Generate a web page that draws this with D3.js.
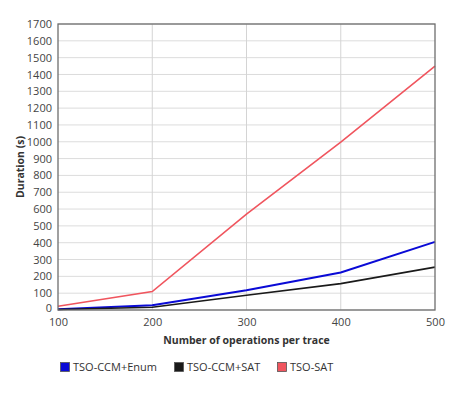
<!DOCTYPE html>
<html>
<head>
<meta charset="utf-8">
<script src="https://cdn.jsdelivr.net/npm/d3@7"></script>
<style>
  body { margin: 0; background: #fff; }
  text { font-family: "Open Sans", sans-serif; }
</style>
</head>
<body>
<div id="chart"></div>
<script>
// data
const opsPerTrace = [100, 200, 300, 400, 500];
const enumDur = [5, 28, 118, 223, 405];
const ccmSatDur = [3, 16, 88, 157, 255];
const satDur = [22, 110, 570, 998, 1450];
const yTicks = d3.range(0, 1701, 100);

const seriesNames = ["TSO-CCM+Enum", "TSO-CCM+SAT", "TSO-SAT"];
const seriesColors = ["#0a0ad6", "#1a1a1a", "#f0555e"];
const seriesWidths = [2, 1.6, 1.6];
const seriesData = [enumDur, ccmSatDur, satDur];

const width = 474, height = 395;
const margin = { top: 24, right: 39, bottom: 85, left: 58 };

const svg = d3.select("#chart")
    .append("svg")
    .attr("width", width)
    .attr("height", height);

const x = d3.scaleLinear()
    .domain([100, 500])
    .range([margin.left, width - margin.right]);

const y = d3.scaleLinear()
    .domain([0, 1700])
    .range([height - margin.bottom, margin.top]);

// grid
svg.append("g")
    .selectAll("line")
    .data(yTicks)
    .join("line")
    .attr("x1", margin.left)
    .attr("x2", width - margin.right)
    .attr("y1", d => y(d))
    .attr("y2", d => y(d))
    .attr("stroke", "#dcdcdc")
    .attr("stroke-width", 1);

svg.append("g")
    .selectAll("line")
    .data(opsPerTrace.slice(1, -1))
    .join("line")
    .attr("x1", d => x(d))
    .attr("x2", d => x(d))
    .attr("y1", margin.top)
    .attr("y2", height - margin.bottom)
    .attr("stroke", "#d4d4d4")
    .attr("stroke-width", 1);

// lines
const line = d3.line()
    .x((d, i) => x(opsPerTrace[i]))
    .y(d => y(d));

svg.append("g")
    .selectAll("path")
    .data(seriesData)
    .join("path")
    .attr("d", d => line(d))
    .attr("fill", "none")
    .attr("stroke", (d, i) => seriesColors[i])
    .attr("stroke-width", (d, i) => seriesWidths[i]);

// frame
svg.append("rect")
    .attr("x", margin.left)
    .attr("y", margin.top)
    .attr("width", width - margin.right - margin.left)
    .attr("height", height - margin.bottom - margin.top)
    .attr("fill", "none")
    .attr("stroke", "#6e6e6e")
    .attr("stroke-width", 1.3);

// axes
const xAxis = svg.append("g")
    .attr("transform", `translate(0,${height - margin.bottom})`)
    .call(d3.axisBottom(x).tickValues(opsPerTrace).tickFormat(d3.format("d")).tickSize(0).tickPadding(8));
xAxis.select(".domain").remove();
xAxis.selectAll("text").attr("font-size", 11).attr("fill", "#444").attr("font-family", "Open Sans, sans-serif");

const yAxis = svg.append("g")
    .attr("transform", `translate(${margin.left},0)`)
    .call(d3.axisLeft(y).tickValues(yTicks).tickFormat(d3.format("d")).tickSize(0).tickPadding(6));
yAxis.select(".domain").remove();
yAxis.selectAll("text").attr("font-size", 11).attr("fill", "#444").attr("font-family", "Open Sans, sans-serif");
// nudge the zero label so it clears the first x label
yAxis.selectAll(".tick").filter(d => d === 0).select("text").attr("dy", "0.1em");

// axis titles
svg.append("text")
    .attr("x", (margin.left + width - margin.right) / 2)
    .attr("y", 344)
    .attr("text-anchor", "middle")
    .attr("font-size", 10.5)
    .attr("font-weight", "bold")
    .attr("fill", "#333")
    .text("Number of operations per trace");

svg.append("text")
    .attr("transform", `translate(24,${(margin.top + height - margin.bottom) / 2}) rotate(-90)`)
    .attr("text-anchor", "middle")
    .attr("font-size", 10.5)
    .attr("font-weight", "bold")
    .attr("fill", "#333")
    .text("Duration (s)");

// legend
const legendX = [65, 179, 282];
const legend = svg.append("g")
    .selectAll("g")
    .data(seriesNames)
    .join("g")
    .attr("transform", (d, i) => `translate(${legendX[i]},367)`);

legend.append("rect")
    .attr("x", -4.5)
    .attr("y", -4.5)
    .attr("width", 9)
    .attr("height", 9)
    .attr("fill", (d, i) => seriesColors[i])
    .attr("stroke", "#555")
    .attr("stroke-width", 0.8);

legend.append("text")
    .attr("x", 8)
    .attr("y", 4)
    .attr("font-size", 11)
    .attr("fill", "#333")
    .text(d => d);
</script>
</body>
</html>
